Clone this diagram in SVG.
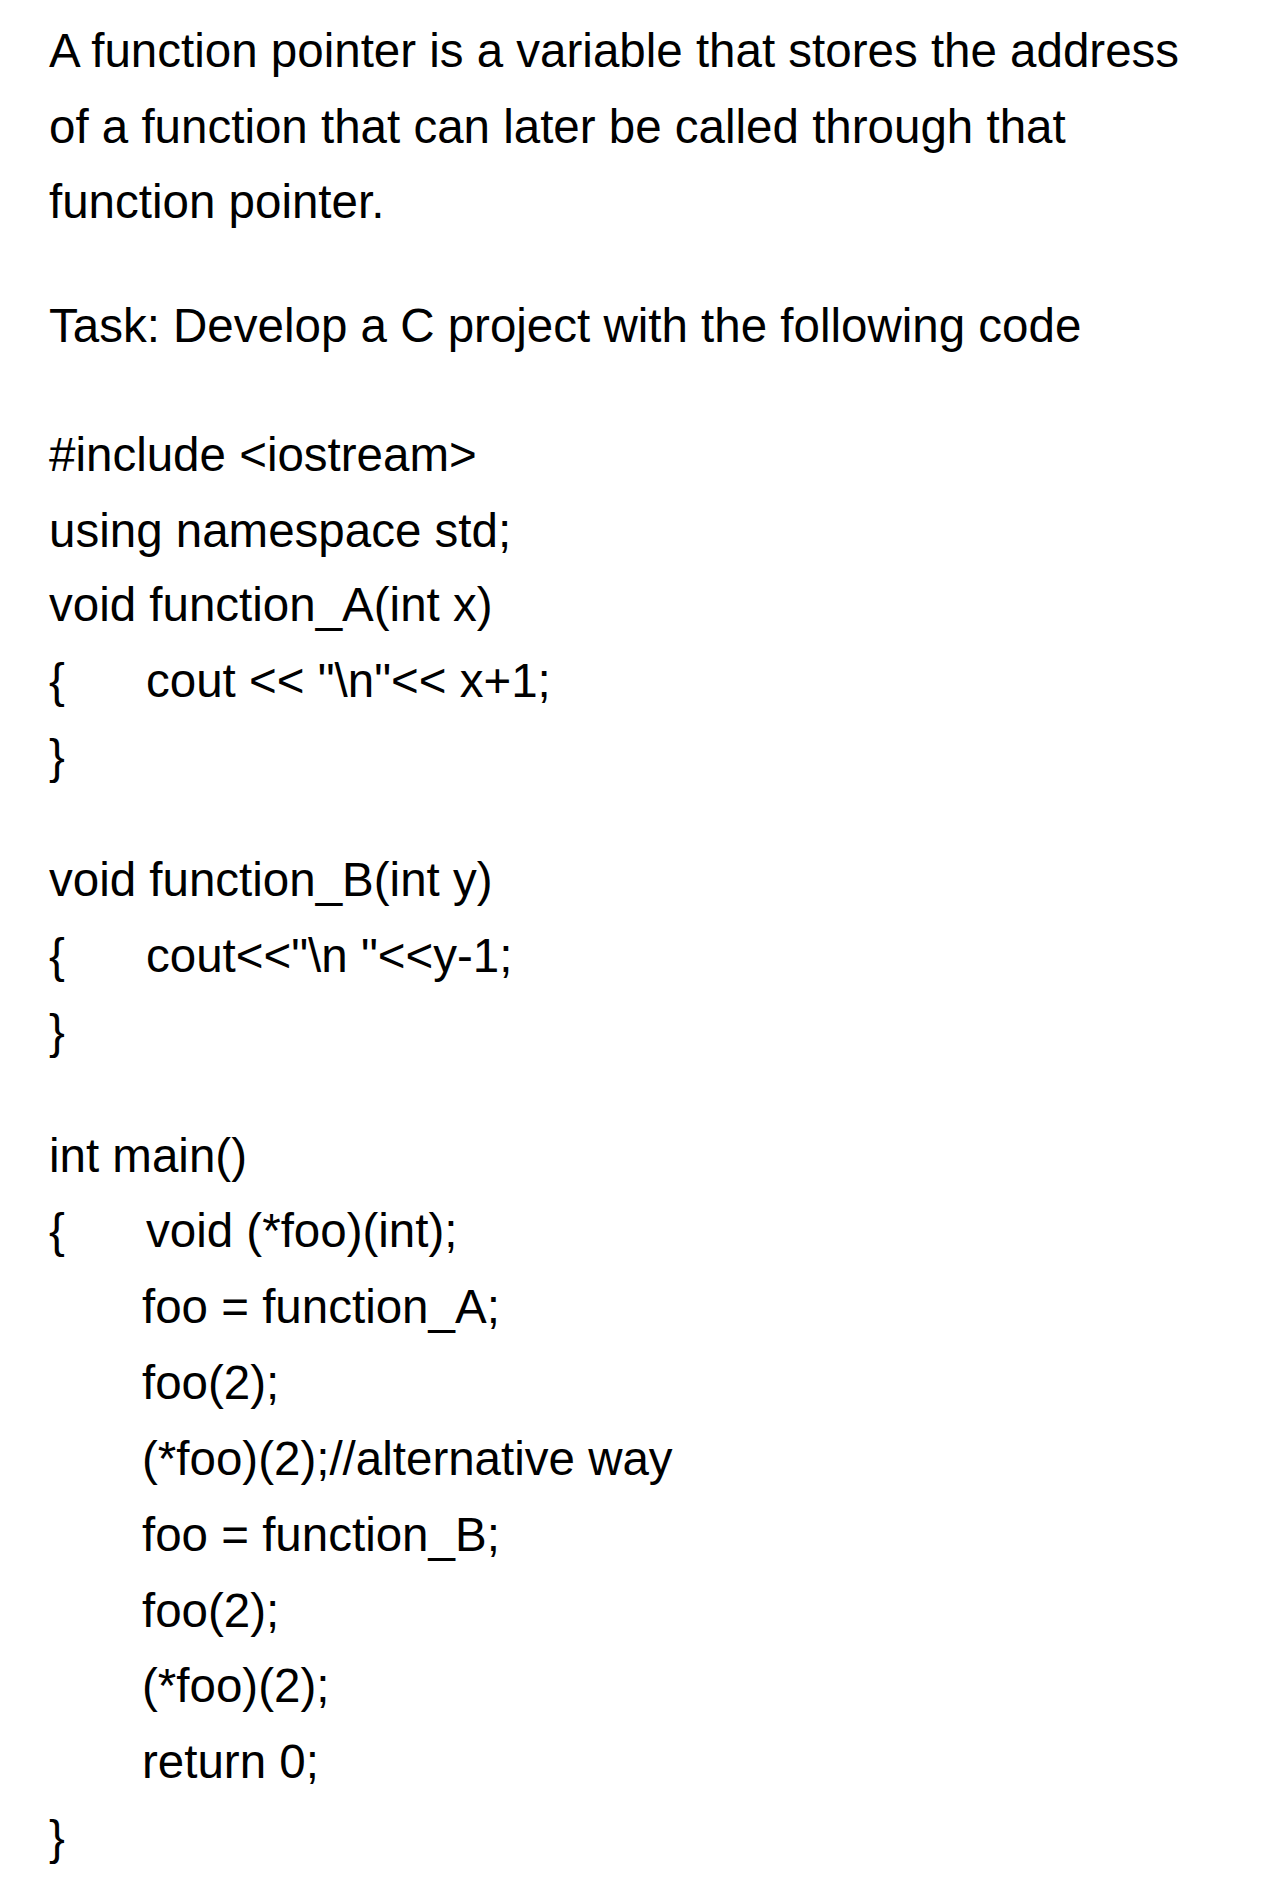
<svg xmlns="http://www.w3.org/2000/svg" width="1284" height="1899" viewBox="0 0 1284 1899">
<style>text{font-family:"Liberation Sans",Arial,sans-serif;font-size:47.5px;fill:#000}</style>
<rect width="1284" height="1899" fill="#fff"/>
<g id="text">
<text x="49" y="67">A function pointer is a variable that stores the address</text>
<text x="49" y="143">of a function that can later be called through that</text>
<text x="49" y="218">function pointer.</text>
<text x="49" y="342">Task: Develop a C project with the following code</text>
<text x="49" y="471">#include &lt;iostream&gt;</text>
<text x="49" y="547">using namespace std;</text>
<text x="49" y="621">void function_A(int x)</text>
<text x="49" y="697">{</text><text x="146" y="697">cout &lt;&lt; "\n"&lt;&lt; x+1;</text>
<text x="49" y="773">}</text>
<text x="49" y="896">void function_B(int y)</text>
<text x="49" y="972">{</text><text x="146" y="972">cout&lt;&lt;"\n "&lt;&lt;y-1;</text>
<text x="49" y="1048">}</text>
<text x="49" y="1172">int main()</text>
<text x="49" y="1247">{</text><text x="146" y="1247">void (*foo)(int);</text>
<text x="142" y="1323">foo = function_A;</text>
<text x="142" y="1399">foo(2);</text>
<text x="142" y="1475">(*foo)(2);//alternative way</text>
<text x="142" y="1551">foo = function_B;</text>
<text x="142" y="1627">foo(2);</text>
<text x="142" y="1702">(*foo)(2);</text>
<text x="142" y="1778">return 0;</text>
<text x="49" y="1854">}</text>
</g>
</svg>
